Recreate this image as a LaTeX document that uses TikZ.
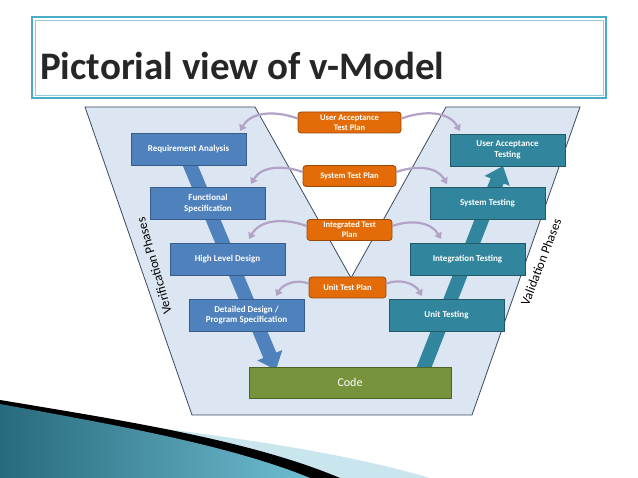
\documentclass[tikz,border=0pt]{standalone}
\usepackage{fontspec}
\setmainfont{Carlito}
\usetikzlibrary{arrows.meta}
\definecolor{vfill}{HTML}{DCE6F2}
\definecolor{vline}{HTML}{3B4A5C}
\definecolor{lblue}{HTML}{4F81BD}
\definecolor{lblueB}{HTML}{385D8A}
\definecolor{teal}{HTML}{31859C}
\definecolor{tealB}{HTML}{215968}
\definecolor{orng}{HTML}{E36C09}
\definecolor{orngB}{HTML}{984807}
\definecolor{grn}{HTML}{77933C}
\definecolor{grnB}{HTML}{4F6228}
\definecolor{purp}{HTML}{B3A2C7}
\definecolor{ttl}{HTML}{4BACC6}
\begin{document}
\begin{tikzpicture}[x=1pt,y=-1pt,
  lbox/.style={draw=lblueB,fill=lblue,text=white,font=\bfseries\fontsize{9}{10.5}\selectfont,align=center,minimum width=115pt,minimum height=32pt,inner sep=1pt},
  rbox/.style={lbox,draw=tealB,fill=teal},
  obox/.style={draw=orngB,fill=orng,text=white,font=\bfseries\fontsize{8.5}{10}\selectfont,align=center,rounded corners=3pt,inner sep=1pt,line width=0.8pt,minimum height=21pt},
  parr/.style={draw=purp,line width=2.2pt,-{Triangle[length=6pt,width=8pt]}},
  bigarr/.style={line width=14pt,-{Triangle[length=16pt,width=26pt]}}]
\useasboundingbox (0,0) rectangle (638,478);
\fill[white] (0,0) rectangle (638,478);
% title
\draw[ttl,line width=1.2pt] (32,17) rectangle (606,98);
\draw[ttl!60,line width=0.6pt] (35,20) rectangle (603,95);
\node[anchor=base west,font=\bfseries\fontsize{39}{42}\selectfont,inner sep=0pt,text=black!85] (title) at (40,80) {Pictorial view of v-Model};
% V shape
\filldraw[fill=vfill,draw=vline,line width=0.8pt] (85,107) -- (255,107) -- (351,278) -- (446,107) -- (580,107) -- (472,415) -- (192,415) -- cycle;
% bottom swoosh
\fill[ttl!30] (0,405) .. controls (150,430) and (300,440) .. (430,478) -- (0,478) -- cycle;
\fill[black] (0,400) .. controls (120,420) and (250,440) .. (340,478) -- (0,478) -- cycle;
\shade[left color=teal!80!black,right color=ttl!80] (0,404) .. controls (110,424) and (230,445) .. (310,478) -- (0,478) -- cycle;
% big arrows
\coordinate (la1) at (188,160);
\coordinate (la2) at (276,370);
\coordinate (ra1) at (423,370);
\coordinate (ra2) at (503,166);
\draw[bigarr,lblue] (la1) -- (la2);
\draw[bigarr,teal] (ra1) -- (ra2);
% boxes
\node[lbox] (ra) at (188.5,149) {Requirement Analysis};
\node[lbox] (fs) at (208,203.5) {Functional\\Specification};
\node[lbox] (hld) at (227.5,259.5) {High Level Design};
\node[lbox] (dd) at (246.5,315) {Detailed Design /\\Program Specification};
\node[rbox] (uat) at (507.5,150) {User Acceptance\\Testing};
\node[rbox] (st) at (487.5,203.5) {System Testing};
\node[rbox] (it) at (467.5,259.5) {Integration Testing};
\node[rbox] (ut) at (446.5,315) {Unit Testing};
\node[draw=grnB,fill=grn,text=white,font=\fontsize{12}{14}\selectfont,minimum width=202pt,minimum height=31pt] (code) at (350,382.5) {Code};
% orange
\node[obox,minimum width=103pt] (uatp) at (349.5,122.5) {User Acceptance\\Test Plan};
\node[obox,minimum width=93pt] (stp) at (349.5,176) {System Test Plan};
\node[obox,minimum width=85pt] (itp) at (349.5,230) {Integrated Test\\Plan};
\node[obox,minimum width=77pt] (utp) at (347.5,287.5) {Unit Test Plan};
% purple arrows
\coordinate (p1l) at (240,131); \coordinate (p1r) at (460,131);
\coordinate (p2l) at (251,184); \coordinate (p2r) at (447,184);
\coordinate (p3l) at (249,239); \coordinate (p3r) at (441,239);
\coordinate (p4l) at (276,296); \coordinate (p4r) at (422,296);
\draw[parr] (uatp.west) ++(0,-4) to[out=160,in=60] (p1l);
\draw[parr] (uatp.east) ++(0,-4) to[out=20,in=120] (p1r);
\draw[parr] (stp.west) ++(0,-4) to[out=160,in=60] (p2l);
\draw[parr] (stp.east) ++(0,-4) to[out=20,in=120] (p2r);
\draw[parr] (itp.west) ++(0,-4) to[out=160,in=60] (p3l);
\draw[parr] (itp.east) ++(0,-4) to[out=20,in=120] (p3r);
\draw[parr] (utp.west) ++(0,-4) to[out=160,in=60] (p4l);
\draw[parr] (utp.east) ++(0,-4) to[out=20,in=120] (p4r);
% side labels
\node[rotate=106,font=\fontsize{13}{14}\selectfont] (verif) at (154,266) {Verification Phases};
\node[rotate=69,font=\fontsize{13}{14}\selectfont] (valid) at (541,262) {Validation Phases};
\end{tikzpicture}
\end{document}
